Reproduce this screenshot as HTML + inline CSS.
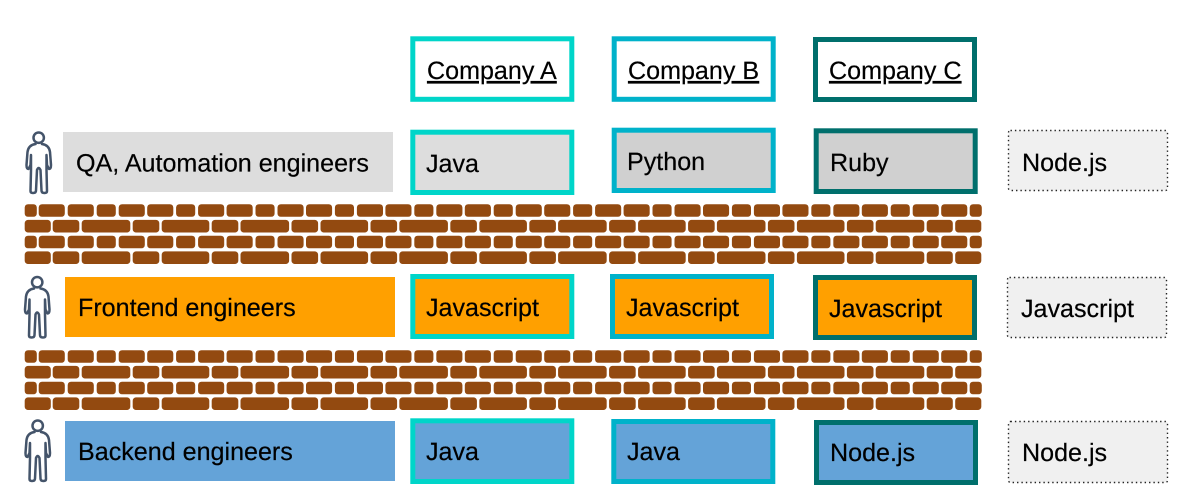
<!DOCTYPE html>
<html>
<head>
<meta charset="utf-8">
<style>
html,body{margin:0;padding:0;background:#fff;width:1200px;height:493px;overflow:hidden}
svg{display:block}
text{font-family:"Liberation Sans",sans-serif;font-size:25.1px;fill:#000;text-rendering:geometricPrecision;stroke:#000;stroke-width:.2px}
.a{stroke:#00d5c9;stroke-width:5}
.b{stroke:#00b2ca;stroke-width:5}
.c{stroke:#006f6c;stroke-width:5}
.d{stroke:#222;stroke-width:1.4;stroke-dasharray:1.4 3;fill:#f0f0f0}
.br rect{fill:#934a10;stroke:#934a10;stroke-width:.6;height:12px}
</style>
</head>
<body>
<svg width="1200" height="493" viewBox="0 0 1200 493" xmlns="http://www.w3.org/2000/svg">
<defs>
<g id="ra" class="br">
<rect x="25" width="11.5" rx="3"/><rect x="39" width="25.5" rx="3"/><rect x="68" width="25.5" rx="3"/>
<rect x="97" width="18.5" rx="3"/><rect x="119" width="25.5" rx="3"/><rect x="147.5" width="25.5" rx="3"/>
<rect x="176.4" width="18.5" rx="3"/><rect x="198.4" width="25.5" rx="3"/><rect x="226.9" width="25.5" rx="3"/>
<rect x="255.8" width="18.5" rx="3"/><rect x="277.8" width="25.5" rx="3"/><rect x="306.3" width="25.5" rx="3"/>
<rect x="335.2" width="18.5" rx="3"/><rect x="357.2" width="25.5" rx="3"/><rect x="385.7" width="25.5" rx="3"/>
<rect x="414.6" width="18.5" rx="3"/><rect x="436.6" width="25.5" rx="3"/><rect x="465.1" width="25.5" rx="3"/>
<rect x="494" width="18.5" rx="3"/><rect x="516" width="25.5" rx="3"/><rect x="544.5" width="25.5" rx="3"/>
<rect x="573.4" width="18.5" rx="3"/><rect x="595.4" width="25.5" rx="3"/><rect x="623.9" width="25.5" rx="3"/>
<rect x="652.8" width="18.5" rx="3"/><rect x="674.8" width="25.5" rx="3"/><rect x="703.3" width="25.5" rx="3"/>
<rect x="732.2" width="18.5" rx="3"/><rect x="754.2" width="25.5" rx="3"/><rect x="782.7" width="25.5" rx="3"/>
<rect x="811.6" width="18.5" rx="3"/><rect x="833.6" width="25.5" rx="3"/><rect x="862.1" width="25.5" rx="3"/>
<rect x="891" width="18.5" rx="3"/><rect x="913" width="25.5" rx="3"/><rect x="941.5" width="25.5" rx="3"/>
<rect x="970" width="11.5" rx="3"/>
</g>
<g id="rb" class="br">
<rect x="25" width="25.5" rx="3"/><rect x="53" width="26" rx="3"/>
<rect x="82" width="48" rx="3"/><rect x="133" width="26" rx="3"/><rect x="162" width="47" rx="3"/><rect x="212" width="26" rx="3"/>
<rect x="240.8" width="48" rx="3"/><rect x="291.8" width="26" rx="3"/><rect x="320.8" width="47" rx="3"/><rect x="370.8" width="26" rx="3"/>
<rect x="399.6" width="48" rx="3"/><rect x="450.6" width="26" rx="3"/><rect x="479.6" width="47" rx="3"/><rect x="529.6" width="26" rx="3"/>
<rect x="558.4" width="48" rx="3"/><rect x="609.4" width="26" rx="3"/><rect x="638.4" width="47" rx="3"/><rect x="688.4" width="26" rx="3"/>
<rect x="717.2" width="48" rx="3"/><rect x="768.2" width="26" rx="3"/><rect x="797.2" width="47" rx="3"/><rect x="847.2" width="26" rx="3"/>
<rect x="876" width="48" rx="3"/><rect x="927" width="25.5" rx="3"/><rect x="955.5" width="25.5" rx="3"/>
</g>
<g id="wall">
<use href="#ra" y="204.5"/><use href="#rb" y="220.2"/><use href="#ra" y="236"/><use href="#rb" y="251.7"/>
</g>
<g id="person" fill="none" stroke="#44546a" stroke-width="2.5" stroke-linejoin="round" stroke-linecap="round">
<circle cx="38.7" cy="137.7" r="5.2"/>
<path d="M35.5 144 Q28.5 145 27.5 152 L26.5 165 Q26.5 169 28.5 169 L30.5 165 L31 155 L31 170 L30.5 191 Q30.5 193 33 193 Q36 193 36 190.5 L37 170 Q38.5 166 40.5 170 L41.5 190.5 Q41.5 193 44.5 193 Q47 193 47 191 L46.5 170 L46.5 155 L47 165 L49 169 Q51 169 51 165 L50 152 Q49 145 42 144"/>
</g>
</defs>

<use href="#person"/>
<use href="#person" x="-1.5" y="144.5"/>
<use href="#person" x="-1" y="288"/>

<use href="#wall"/>
<use href="#wall" y="146"/>

<!-- Header -->
<rect class="a" x="412.8" y="38.8" width="159" height="60.5" fill="#fff"/>
<rect class="b" x="614.2" y="38.8" width="159" height="60.5" fill="#fff"/>
<rect class="c" x="815.5" y="39.5" width="159" height="60" fill="#fff"/>
<text x="427" y="79" text-decoration="underline">Company A</text>
<text x="628" y="79" text-decoration="underline">Company B</text>
<text x="829" y="79" text-decoration="underline">Company C</text>

<!-- QA row -->
<rect x="63" y="132" width="330" height="60" fill="#dddddd"/>
<text x="76" y="171.5">QA, Automation engineers</text>
<rect class="a" x="412.8" y="132.2" width="159" height="60.3" fill="#dddddd"/>
<rect class="b" x="614.2" y="130.2" width="159" height="60.3" fill="#d0d0d0"/>
<rect class="c" x="816.2" y="130.8" width="159" height="60.7" fill="#d0d0d0"/>
<text x="426" y="172">Java</text>
<text x="627" y="170">Python</text>
<text x="830" y="171">Ruby</text>
<rect class="d" x="1008.5" y="130.5" width="159" height="60" rx="2"/>
<text x="1022" y="171">Node.js</text>

<!-- Frontend row -->
<rect x="65" y="277" width="330" height="60" fill="#ffa000"/>
<text x="78" y="316">Frontend engineers</text>
<rect class="a" x="412.8" y="276.5" width="159" height="60" fill="#ffa000"/>
<rect class="b" x="612.5" y="276.5" width="159" height="60" fill="#ffa000"/>
<rect class="c" x="815.5" y="277.5" width="159" height="60" fill="#ffa000"/>
<text x="426" y="316">Javascript</text>
<text x="626" y="316">Javascript</text>
<text x="829" y="317">Javascript</text>
<rect class="d" x="1007.5" y="277.5" width="159" height="60" rx="2"/>
<text x="1021" y="317">Javascript</text>

<!-- Backend row -->
<rect x="65" y="421" width="330" height="60" fill="#64a3d8"/>
<text x="78" y="460">Backend engineers</text>
<rect class="a" x="412.8" y="420.8" width="159" height="60.7" fill="#64a3d8"/>
<rect class="b" x="613.8" y="421.5" width="159" height="60" fill="#64a3d8"/>
<rect class="c" x="816.5" y="422.5" width="159" height="60" fill="#64a3d8"/>
<text x="426" y="460">Java</text>
<text x="627" y="460">Java</text>
<text x="830" y="461">Node.js</text>
<rect class="d" x="1008.5" y="421.5" width="159" height="61" rx="2"/>
<text x="1022" y="461">Node.js</text>
</svg>
</body>
</html>
